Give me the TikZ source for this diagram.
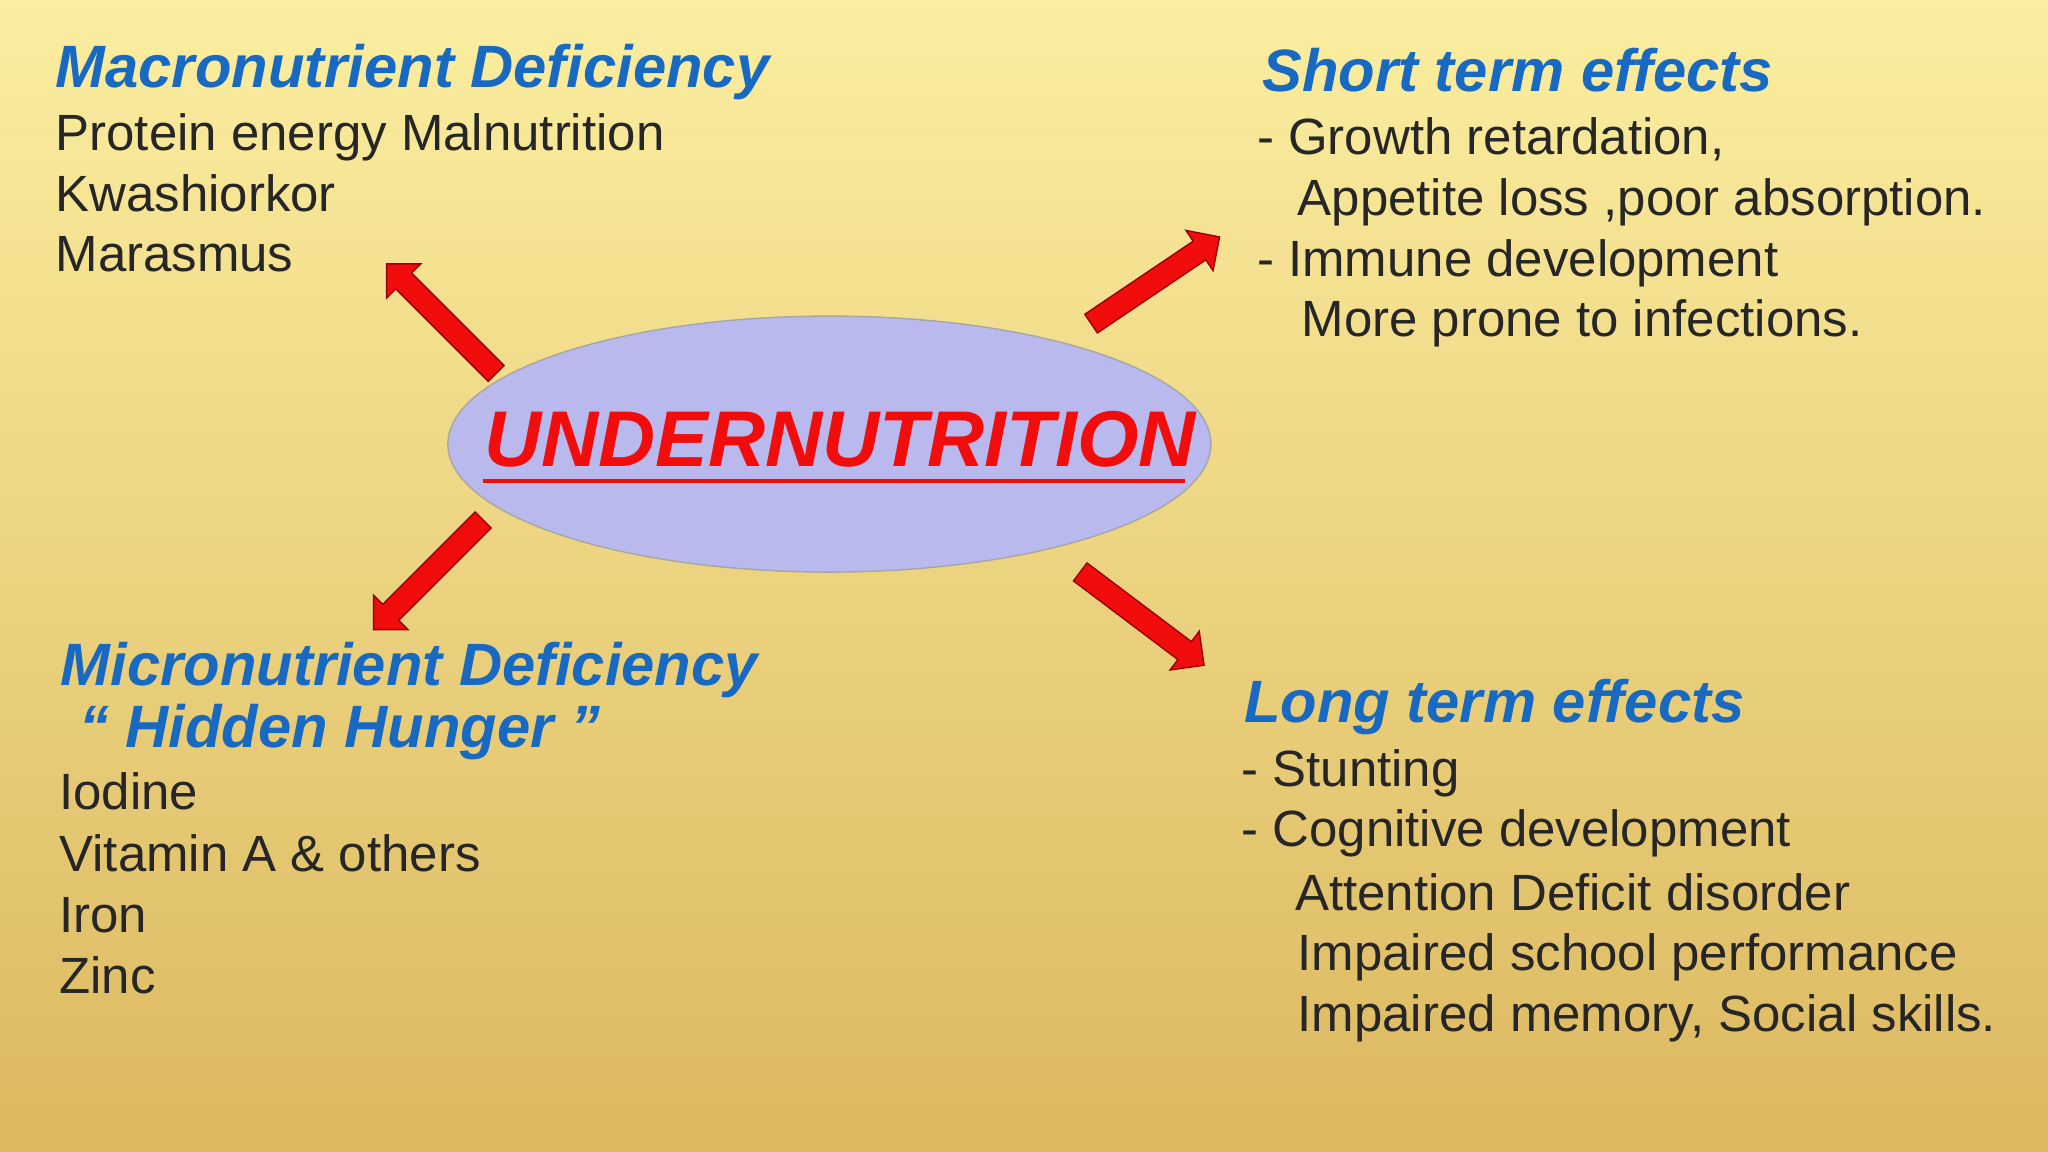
\documentclass[tikz,border=0pt]{standalone}
\usepackage{fontspec}
\setmainfont{Liberation Sans}
\usetikzlibrary{shapes.arrows,shapes.geometric}
\definecolor{headblue}{HTML}{1769C2}
\definecolor{txt}{HTML}{262626}
\definecolor{lav}{HTML}{B9B9EE}
\definecolor{arrred}{HTML}{F20D0D}
\definecolor{bgtop}{HTML}{FBEEA0}
\definecolor{bgbot}{HTML}{DCB860}
\begin{document}
\begin{tikzpicture}[x=0.013061cm,y=-0.013061cm,
  head/.style={anchor=base west,inner sep=0,text=headblue,font=\fontsize{17}{20}\selectfont\bfseries\itshape},
  body/.style={anchor=base west,inner sep=0,text=txt,font=\fontsize{14.5}{18}\selectfont},
  bigarrow/.style={single arrow,fill=arrred,draw=red!60!black,line width=0.4pt,minimum height=1.55cm,inner xsep=0pt,inner ysep=3pt,single arrow head extend=0.13cm,single arrow tip angle=90}]
\shade[top color=bgtop,bottom color=bgbot] (0,0) rectangle (1568,882);
\useasboundingbox (0,0) rectangle (1568,882);
\node[ellipse,draw=gray!70,fill=lav,minimum width=7.63cm,minimum height=2.56cm] (core) at (635,340) {};
\node[anchor=base,inner sep=0,text=arrred,font=\fontsize{22.5}{26}\selectfont\bfseries\itshape] (title) at (643,357) {UNDERNUTRITION};
\draw[arrred,line width=1.2pt] (370,368) -- (907,368);
\node[bigarrow,rotate=135] (a1) at (341,247) {};
\node[bigarrow,rotate=34] (a2) at (881,217) {};
\node[bigarrow,rotate=225] (a3) at (331,437) {};
\node[bigarrow,rotate=-37] (a4) at (871,471) {};
% macro
\node[head] (mh) at (42,67) {Macronutrient Deficiency};
\node[body] (m1) at (42,115) {Protein energy Malnutrition};
\node[body] (m2) at (42,162) {Kwashiorkor};
\node[body] (m3) at (42,208) {Marasmus};
% short
\node[head] (sh) at (966,70) {Short term effects};
\node[body] (s1) at (962,118) {- Growth retardation,};
\node[body] (s2) at (993,165) {Appetite loss ,poor absorption.};
\node[body] (s3) at (962,212) {- Immune development};
\node[body] (s4) at (996,258) {More prone to infections.};
% micro
\node[head] (uh) at (46,525) {Micronutrient Deficiency};
\node[head] (uh2) at (60,572) {“ Hidden Hunger ”};
\node[body] (u1) at (45,620) {Iodine};
\node[body] (u2) at (45,667) {Vitamin A \& others};
\node[body] (u3) at (45,714) {Iron};
\node[body] (u4) at (45,761) {Zinc};
% long
\node[head] (lh) at (952,553) {Long term effects};
\node[body] (l1) at (950,602) {- Stunting};
\node[body] (l2) at (950,648) {- Cognitive development};
\node[body] (l3) at (991,697) {Attention Deficit disorder};
\node[body] (l4) at (993,743) {Impaired school performance};
\node[body] (l5) at (993,790) {Impaired memory, Social skills.};
\end{tikzpicture}
\end{document}
